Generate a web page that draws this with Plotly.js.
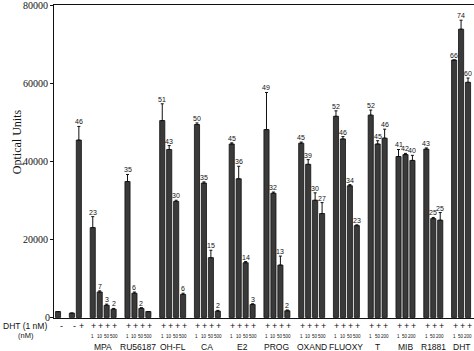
<!DOCTYPE html>
<html>
<head>
<meta charset="utf-8">
<script src="https://cdn.plot.ly/plotly-3.0.1.min.js"></script>
<style>html,body{margin:0;padding:0;background:#fff;}#chart{width:474px;height:351px;}</style>
</head>
<body>
<div id="chart"></div>
<script>
// ---- data ----
const groupNames = ["", "", "MPA", "RU56187", "OH-FL", "CA", "E2", "PROG", "OXAND", "FLUOXY", "T", "MIB", "R1881", "DHT"];
const dhtSigns = [
  ["-"], ["-", "+"],
  ["+","+","+","+"], ["+","+","+","+"], ["+","+","+","+"], ["+","+","+","+"],
  ["+","+","+","+"], ["+","+","+","+"], ["+","+","+","+"], ["+","+","+","+"],
  ["+","+","+"], ["+","+","+"], ["+","+","+"], ["+","+","+"]
];
const doses = [
  [""], ["", ""],
  ["1","10","50","500"], ["1","10","50","500"], ["1","10","50","500"], ["1","10","50","500"],
  ["1","10","50","500"], ["1","10","50","500"], ["1","10","50","500"], ["1","10","50","500"],
  ["1","50","200"], ["1","50","200"], ["1","50","200"], ["1","50","200"]
];
const values = [
  [1500], [1100, 45400],
  [23000, 6500, 3100, 2100],
  [34800, 6200, 2300, 1500],
  [50400, 43000, 29700, 5900],
  [49400, 34400, 15300, 1600],
  [44400, 35500, 14000, 3300],
  [48100, 31800, 13400, 1700],
  [44600, 39200, 30000, 26600],
  [51500, 45700, 33700, 23500],
  [51800, 44400, 45900],
  [41200, 41700, 40200],
  [43100, 25300, 24900],
  [65900, 73800, 60200]
];
const errors = [
  [0], [0, 3500],
  [2800, 300, 300, 200],
  [1800, 300, 200, 0],
  [4300, 1000, 300, 300],
  [400, 300, 1900, 200],
  [300, 3200, 300, 200],
  [9500, 300, 2300, 200],
  [300, 1200, 1900, 2800],
  [1400, 600, 300, 200],
  [1300, 850, 2300],
  [1800, 300, 1300],
  [300, 300, 1950],
  [0, 2300, 1100]
];
const labels = [
  [""], ["", "46"],
  ["23","7","3","2"],
  ["35","6","2",""],
  ["51","43","30","6"],
  ["50","35","15","2"],
  ["45","36","14","3"],
  ["49","32","13","2"],
  ["45","39","30","27"],
  ["52","46","34","23"],
  ["52","45","46"],
  ["41","42","40"],
  ["43","25","25"],
  ["66","74","60"]
];
const yTicks = [0, 20000, 40000, 60000, 80000];

// ---- build ----
const xs = [], ys = [], es = [], annots = [];
const sans = "Liberation Sans, Arial, sans-serif";
const serif = "Liberation Serif, Times New Roman, serif";
const ink = '#111111';
const clear = 'rgba(0,0,0,0)';
let pos = 0;
groupNames.forEach((g, gi) => {
  const start = pos;
  values[gi].forEach((v, bi) => {
    xs.push(pos); ys.push(v); es.push(errors[gi][bi]);
    if (labels[gi][bi]) {
      annots.push({x: pos, y: v + errors[gi][bi], xref: 'x', yref: 'y', text: labels[gi][bi], bgcolor: clear,
        showarrow: false, yanchor: 'bottom', yshift: -1, font: {family: sans, size: 7, color: ink}});
    }
    annots.push({x: pos, y: -0.024, xref: 'x', yref: 'paper', text: dhtSigns[gi][bi], bgcolor: clear,
      xshift: gi < 2 ? 3 : 1,
      showarrow: false, yanchor: 'middle', font: {family: sans, size: 9, color: ink}});
    if (doses[gi][bi]) {
      annots.push({x: pos, y: -0.058, xref: 'x', yref: 'paper', text: doses[gi][bi], bgcolor: clear,
        showarrow: false, yanchor: 'middle', font: {family: sans, size: 4.5, color: ink}});
    }
    pos++;
  });
  if (g) {
    annots.push({x: (start + pos - 1) / 2, y: -0.092, xref: 'x', yref: 'paper', text: g, bgcolor: clear,
      showarrow: false, yanchor: 'middle', font: {family: sans, size: 8.5, color: ink}});
  }
  pos++;
});

// zero tick label drawn as annotation (Plotly's own one at the corner is not shown)
annots.push({x: -0.0071, y: yTicks[0], xref: 'paper', yref: 'y', text: String(yTicks[0]), xanchor: 'right', yanchor: 'middle',
  bgcolor: clear, borderpad: 0, showarrow: false, font: {family: serif, size: 10, color: ink}});
annots.push({x: -0.124, y: -0.026, xref: 'paper', yref: 'paper', text: 'DHT (1 nM)', xanchor: 'left', bgcolor: clear, borderpad: 0,
  showarrow: false, yanchor: 'middle', font: {family: sans, size: 8.5, color: ink}});
annots.push({x: -0.088, y: -0.056, xref: 'paper', yref: 'paper', text: '(nM)', xanchor: 'left', bgcolor: clear, borderpad: 0,
  showarrow: false, yanchor: 'middle', font: {family: sans, size: 7.5, color: ink}});
annots.push({x: -0.088, y: 0.562, xref: 'paper', yref: 'paper', text: 'Optical Units', textangle: -90, bgcolor: clear,
  showarrow: false, xanchor: 'center', yanchor: 'middle', font: {family: serif, size: 12, color: ink}});

const trace = {
  type: 'bar', x: xs, y: ys, width: 0.74,
  marker: {color: '#3a3a3a', line: {color: ink, width: 0.8}},
  error_y: {type: 'data', symmetric: false, array: es, arrayminus: es.map(() => 0),
    color: ink, thickness: 1, width: 1.5},
  hoverinfo: 'none'
};

const layout = {
  width: 474, height: 351,
  margin: {l: 54, r: 0, t: 5, b: 33},
  paper_bgcolor: '#fff', plot_bgcolor: '#fff',
  showlegend: false,
  xaxis: {range: [-0.576, 59.86], showticklabels: false, ticks: '', showgrid: false, zeroline: false,
    showline: true, mirror: true, linecolor: ink, linewidth: 1},
  yaxis: {range: [-150, 80000], tickmode: 'array', tickvals: yTicks,
    ticktext: yTicks.map(v => v === yTicks[0] ? '' : String(v)),
    ticks: 'outside', ticklen: 3, tickcolor: ink, showgrid: false, zeroline: false,
    showline: true, linecolor: ink, linewidth: 1, automargin: false, ticklabeloverflow: 'allow',
    tickfont: {family: serif, size: 10, color: ink}},
  annotations: annots
};

Plotly.newPlot('chart', [trace], layout, {staticPlot: true, displayModeBar: false});
</script>
</body>
</html>
